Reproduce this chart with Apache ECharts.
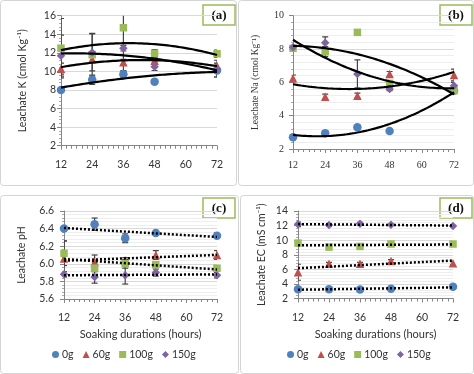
<!DOCTYPE html>
<html><head><meta charset="utf-8">
<script src="https://cdn.jsdelivr.net/npm/echarts@6/dist/echarts.min.js"></script>
<style>html,body{margin:0;padding:0;background:#fff}#c{width:474px;height:374px}</style>
</head><body><div id="c"></div>
<script>
// ---- data ----
const hours = [12, 24, 36, 48, 72];
const doses = ['0g', '60g', '100g', '150g'];
const xTicks = [12, 24, 36, 48, 60, 72];

// (a) Leachate K (cmol Kg-1)
const K_0g   = [8.0, 9.1, 9.7, 8.9, 10.1];
const K_60g  = [10.3, 11.3, 11.0, 11.15, 10.6];
const K_100g = [12.5, 11.8, 14.7, 11.95, 11.9];
const K_150g = [11.7, 12.05, 12.5, 10.5, 10.3];
const K_err_0g   = [0.2, 0.5, 0.4, 0.2, 0.7];
const K_err_60g  = [0.6, 0.3, 0.3, 0.3, 0.3];
const K_err_100g = [3.2, 2.3, 4.7, 0.4, 0.4];
const K_err_150g = [2.2, 2.0, 0.3, 0.4, 0.9];

// (b) Leachate Na (cmol Kg-1)
const Na_0g   = [2.7, 2.94, 3.3, 3.08, 5.5];
const Na_60g  = [6.24, 5.14, 5.2, 6.5, 6.44];
const Na_100g = [8.04, 7.84, 9.0, 5.94, 5.5];
const Na_150g = [8.1, 8.38, 6.5, 5.6, 5.8];
const Na_err_0g   = [0.05, 0.15, 0.05, 0.05, 0.1];
const Na_err_60g  = [0.2, 0.15, 0.15, 0.15, 0.35];
const Na_err_100g = [0.1, 0.3, 0.05, 0.1, 0.1];
const Na_err_150g = [0.1, 0.35, 0.85, 0.1, 0.2];

// (c) Leachate pH
const pH_0g   = [6.40, 6.45, 6.29, 6.35, 6.32];
const pH_60g  = [6.06, 6.02, 6.04, 6.10, 6.10];
const pH_100g = [6.12, 5.95, 6.00, 5.99, 5.95];
const pH_150g = [5.88, 5.85, 5.87, 5.90, 5.87];
const pH_err_0g   = [0.03, 0.07, 0.05, 0.02, 0.03];
const pH_err_60g  = [0.2, 0.08, 0.03, 0.05, 0.05];
const pH_err_100g = [0.14, 0.04, 0.05, 0.03, 0.03];
const pH_err_150g = [0.03, 0.07, 0.1, 0.04, 0.03];

// (d) Leachate EC (mS cm-1)
const EC_0g   = [3.28, 3.28, 3.24, 3.33, 3.6];
const EC_60g  = [5.6, 6.76, 6.76, 7.13, 6.85];
const EC_100g = [9.6, 9.05, 9.14, 9.47, 9.47];
const EC_150g = [12.17, 12.08, 12.26, 12.12, 11.94];
const EC_err_0g   = [0.3, 0.1, 0.1, 0.1, 0.1];
const EC_err_60g  = [1.1, 0.2, 0.2, 0.2, 0.2];
const EC_err_100g = [0.3, 0.1, 0.1, 0.1, 0.1];
const EC_err_150g = [0.3, 0.2, 0.2, 0.1, 0.1];

// ---- styling ----
const COLORS = ['#4f81bd', '#c0504d', '#9bbb59', '#8064a2'];
const SYMBOLS = ['circle', 'triangle', 'rect', 'diamond'];
const SIZES = [8.5, 8.5, 7.5, 8.5];
const SANS = 'Lato';
const SERIF = 'Liberation Serif';

const panels = [
  { label: '(a)', name: 'Leachate K (cmol Kg\u207B\u00B9)', vals: [K_0g, K_60g, K_100g, K_150g],
    errs: [K_err_0g, K_err_60g, K_err_100g, K_err_150g], deg: 2, min: 2, max: 16, interval: 2,
    grid: { left: 61, top: 15.7, width: 156, height: 130 }, font: SANS, nameGap: 33, yMargin: 5, xMargin: 13,
    minorGrid: false, xName: false },
  { label: '(b)', name: 'Leachate Na (cmol Kg\u207B\u00B9)', vals: [Na_0g, Na_60g, Na_100g, Na_150g],
    errs: [Na_err_0g, Na_err_60g, Na_err_100g, Na_err_150g], deg: 2, min: 2, max: 10, interval: 2,
    grid: { left: 293, top: 15.7, width: 161, height: 133.3 }, font: SERIF, nameGap: 33, yMargin: 9, xMargin: 11,
    minorGrid: true, xName: false },
  { label: '(c)', name: 'Leachate pH', vals: [pH_0g, pH_60g, pH_100g, pH_150g],
    errs: [pH_err_0g, pH_err_60g, pH_err_100g, pH_err_150g], deg: 1, min: 5.6, max: 6.6, interval: 0.2,
    grid: { left: 64, top: 211, width: 153, height: 88 }, font: SANS, nameGap: 37, yMargin: 10, xMargin: 13,
    minorGrid: true, xName: true, fmt: v => v.toFixed(1) },
  { label: '(d)', name: 'Leachate EC (mS cm\u207B\u00B9)', vals: [EC_0g, EC_60g, EC_100g, EC_150g],
    errs: [EC_err_0g, EC_err_60g, EC_err_100g, EC_err_150g], deg: 1, min: 2, max: 14, interval: 2,
    grid: { left: 298, top: 211, width: 155, height: 87.5 }, font: SANS, nameGap: 31, yMargin: 10, xMargin: 14,
    minorGrid: true, xName: true }
];

// least-squares polynomial trendline (as the spreadsheet trendline does)
function polyfit(xs, ys, deg) {
  const n = deg + 1;
  const A = Array.from({ length: n }, () => new Array(n + 1).fill(0));
  for (let r = 0; r < n; r++) {
    for (let c = 0; c < n; c++) A[r][c] = xs.reduce((s, x) => s + Math.pow(x, r + c), 0);
    A[r][n] = xs.reduce((s, x, i) => s + ys[i] * Math.pow(x, r), 0);
  }
  for (let i = 0; i < n; i++) {
    let p = i;
    for (let k = i + 1; k < n; k++) if (Math.abs(A[k][i]) > Math.abs(A[p][i])) p = k;
    [A[i], A[p]] = [A[p], A[i]];
    for (let k = 0; k < n; k++) {
      if (k === i) continue;
      const f = A[k][i] / A[i][i];
      for (let c = i; c <= n; c++) A[k][c] -= f * A[i][c];
    }
  }
  return A.map((row, i) => row[n] / row[i]);
}
function trendData(xs, ys, deg) {
  const co = polyfit(xs, ys, deg);
  const x0 = xs[0], x1 = xs[xs.length - 1];
  const steps = deg === 1 ? 1 : 60;
  const out = [];
  for (let s = 0; s <= steps; s++) {
    const x = x0 + (x1 - x0) * s / steps;
    out.push([x, co.reduce((acc, c, k) => acc + c * Math.pow(x, k), 0)]);
  }
  return out;
}

const grids = [], xAxes = [], yAxes = [], series = [];
const axisColor = '#868686';
panels.forEach((p, i) => {
  const fs = p.font === SERIF ? 10 : 10.5;
  grids.push(Object.assign({ containLabel: false, outerBoundsMode: 'none' }, p.grid));
  xAxes.push({
    type: 'value', gridIndex: i, min: 12, max: 72, interval: 12,
    name: p.xName ? 'Soaking durations (hours)' : '', nameLocation: 'middle', nameGap: 30,
    nameTextStyle: { fontFamily: p.font, fontSize: 11, color: '#333' },
    axisLine: { show: true, onZero: false, lineStyle: { color: axisColor } },
    axisTick: { show: true, length: 4, lineStyle: { color: axisColor } },
    minorTick: { show: true, splitNumber: 6, length: 3, lineStyle: { color: axisColor } },
    splitLine: { show: false },
    axisLabel: { margin: p.xMargin, fontFamily: p.font, fontSize: fs, color: '#333',
      customValues: xTicks }
  });
  yAxes.push({
    type: 'value', gridIndex: i, min: p.min, max: p.max, interval: p.interval,
    name: p.name, nameLocation: 'middle', nameGap: p.nameGap,
    nameTextStyle: { fontFamily: p.font, fontSize: p.font === SERIF ? 9.5 : 10.5, color: '#333' },
    axisLine: { show: true, lineStyle: { color: axisColor } },
    axisTick: { show: true, length: 4, lineStyle: { color: axisColor } },
    minorTick: { show: true, splitNumber: 5, length: 2, lineStyle: { color: '#aaa' } },
    splitLine: { show: true, lineStyle: { color: '#d9d9d9' } },
    minorSplitLine: { show: p.minorGrid, lineStyle: { color: '#eeeeee' } },
    axisLabel: { margin: p.yMargin, fontFamily: p.font, fontSize: fs, color: '#333',
      formatter: p.fmt || (v => String(v)) }
  });
  p.vals.forEach((vals, s) => {
    const err = p.errs[s];
    series.push({
      name: 'err' + i + s, type: 'custom', xAxisIndex: i, yAxisIndex: i, clip: true, z: 2, silent: true,
      data: hours.map((h, k) => [h, vals[k] - err[k], vals[k] + err[k]]),
      encode: { x: 0, y: [1, 2] },
      renderItem: (params, api) => {
        const lo = api.coord([api.value(0), api.value(1)]);
        const hi = api.coord([api.value(0), api.value(2)]);
        const w = 3, st = { stroke: '#444', lineWidth: 1.2 };
        return { type: 'group', children: [
          { type: 'line', shape: { x1: lo[0], y1: lo[1], x2: hi[0], y2: hi[1] }, style: st },
          { type: 'line', shape: { x1: lo[0] - w, y1: lo[1], x2: lo[0] + w, y2: lo[1] }, style: st },
          { type: 'line', shape: { x1: hi[0] - w, y1: hi[1], x2: hi[0] + w, y2: hi[1] }, style: st }
        ] };
      }
    });
    series.push({
      name: doses[s], type: 'scatter', xAxisIndex: i, yAxisIndex: i, z: 3,
      symbol: SYMBOLS[s], symbolSize: SIZES[s],
      itemStyle: { color: COLORS[s], opacity: 1 },
      data: hours.map((h, k) => [h, vals[k]])
    });
  });
  p.vals.forEach((vals, s) => {
    series.push({
      name: 'trend' + i + s, type: 'line', xAxisIndex: i, yAxisIndex: i, z: 5, silent: true,
      showSymbol: false, symbol: 'none', clip: true,
      lineStyle: p.deg === 1
        ? { color: '#000', width: 2.5, type: [2, 2] }
        : { color: '#000', width: 2.2 },
      data: trendData(hours, vals, p.deg)
    });
  });
});

const legendBase = {
  data: doses, orient: 'horizontal', top: 349, itemGap: 9, itemWidth: 7, itemHeight: 7, padding: 0,
  selectedMode: false, textStyle: { fontFamily: SANS, fontSize: 10.5, color: '#333', padding: [0, 0, 0, -2] }
};

const graphic = [];
[[0.5, 0.5, 236, 185], [238.5, 0.5, 235, 185], [0.5, 195.5, 238, 178], [240.5, 195.5, 233, 178]]
  .forEach(r => graphic.push({ type: 'rect', shape: { x: r[0], y: r[1], width: r[2], height: r[3], r: 3 },
    style: { fill: 'none', stroke: '#d4d4d4', lineWidth: 1 }, silent: true }));
[['(a)', 203, 5], ['(b)', 440, 5], ['(c)', 203, 198], ['(d)', 440, 198]].forEach(b => {
  graphic.push({ type: 'rect', shape: { x: b[1], y: b[2], width: 32, height: 20 },
    style: { fill: '#fff', stroke: '#9bbb59', lineWidth: 1.5 }, silent: true });
  graphic.push({ type: 'text', x: b[1] + 16, y: b[2] + 10.5,
    style: { text: b[0], fontFamily: SERIF, fontWeight: 'bold', fontSize: 13, fill: '#111',
      align: 'center', verticalAlign: 'middle' }, silent: true });
});

const chart = echarts.init(document.getElementById('c'), null, { renderer: 'canvas' });
chart.setOption({
  animation: false,
  backgroundColor: '#fff',
  textStyle: { fontFamily: SANS },
  grid: grids, xAxis: xAxes, yAxis: yAxes, series: series,
  legend: [Object.assign({ left: 52 }, legendBase), Object.assign({ left: 287 }, legendBase)],
  graphic: graphic
});
</script>
</body></html>
